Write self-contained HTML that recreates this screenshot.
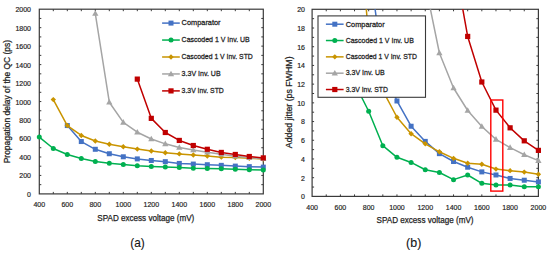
<!DOCTYPE html><html><head><meta charset="utf-8"><style>html,body{margin:0;padding:0;background:#fff;width:550px;height:254px;overflow:hidden}svg{display:block}</style></head><body><svg width="550" height="254" viewBox="0 0 550 254">
<style>text{font-family:"Liberation Sans", sans-serif;fill:#222} .t{font-size:7.8px;stroke:#222;stroke-width:0.18px} .lg{font-size:7.9px;stroke:#222;stroke-width:0.26px} .ti{font-size:8.8px;stroke:#222;stroke-width:0.25px} .yt{font-size:9.0px} .cap{font-size:13.3px;fill:#151515;stroke:#151515;stroke-width:0.12px}</style>
<rect width="550" height="254" fill="#fff"/>
<defs><clipPath id="ca"><rect x="0" y="9.2" width="550" height="250"/></clipPath><clipPath id="cb"><rect x="0" y="9.3" width="550" height="250"/></clipPath></defs>
<rect x="39.3" y="9.2" width="224.0" height="184.70000000000002" fill="none" stroke="#3a3a3a" stroke-width="1.2"/>
<line x1="53.30" y1="193.9" x2="53.30" y2="191.9" stroke="#3a3a3a" stroke-width="1"/>
<line x1="53.30" y1="9.2" x2="53.30" y2="11.2" stroke="#3a3a3a" stroke-width="1"/>
<line x1="67.30" y1="193.9" x2="67.30" y2="191.9" stroke="#3a3a3a" stroke-width="1"/>
<line x1="67.30" y1="9.2" x2="67.30" y2="11.2" stroke="#3a3a3a" stroke-width="1"/>
<line x1="81.30" y1="193.9" x2="81.30" y2="191.9" stroke="#3a3a3a" stroke-width="1"/>
<line x1="81.30" y1="9.2" x2="81.30" y2="11.2" stroke="#3a3a3a" stroke-width="1"/>
<line x1="95.30" y1="193.9" x2="95.30" y2="191.9" stroke="#3a3a3a" stroke-width="1"/>
<line x1="95.30" y1="9.2" x2="95.30" y2="11.2" stroke="#3a3a3a" stroke-width="1"/>
<line x1="109.30" y1="193.9" x2="109.30" y2="191.9" stroke="#3a3a3a" stroke-width="1"/>
<line x1="109.30" y1="9.2" x2="109.30" y2="11.2" stroke="#3a3a3a" stroke-width="1"/>
<line x1="123.30" y1="193.9" x2="123.30" y2="191.9" stroke="#3a3a3a" stroke-width="1"/>
<line x1="123.30" y1="9.2" x2="123.30" y2="11.2" stroke="#3a3a3a" stroke-width="1"/>
<line x1="137.30" y1="193.9" x2="137.30" y2="191.9" stroke="#3a3a3a" stroke-width="1"/>
<line x1="137.30" y1="9.2" x2="137.30" y2="11.2" stroke="#3a3a3a" stroke-width="1"/>
<line x1="151.30" y1="193.9" x2="151.30" y2="191.9" stroke="#3a3a3a" stroke-width="1"/>
<line x1="151.30" y1="9.2" x2="151.30" y2="11.2" stroke="#3a3a3a" stroke-width="1"/>
<line x1="165.30" y1="193.9" x2="165.30" y2="191.9" stroke="#3a3a3a" stroke-width="1"/>
<line x1="165.30" y1="9.2" x2="165.30" y2="11.2" stroke="#3a3a3a" stroke-width="1"/>
<line x1="179.30" y1="193.9" x2="179.30" y2="191.9" stroke="#3a3a3a" stroke-width="1"/>
<line x1="179.30" y1="9.2" x2="179.30" y2="11.2" stroke="#3a3a3a" stroke-width="1"/>
<line x1="193.30" y1="193.9" x2="193.30" y2="191.9" stroke="#3a3a3a" stroke-width="1"/>
<line x1="193.30" y1="9.2" x2="193.30" y2="11.2" stroke="#3a3a3a" stroke-width="1"/>
<line x1="207.30" y1="193.9" x2="207.30" y2="191.9" stroke="#3a3a3a" stroke-width="1"/>
<line x1="207.30" y1="9.2" x2="207.30" y2="11.2" stroke="#3a3a3a" stroke-width="1"/>
<line x1="221.30" y1="193.9" x2="221.30" y2="191.9" stroke="#3a3a3a" stroke-width="1"/>
<line x1="221.30" y1="9.2" x2="221.30" y2="11.2" stroke="#3a3a3a" stroke-width="1"/>
<line x1="235.30" y1="193.9" x2="235.30" y2="191.9" stroke="#3a3a3a" stroke-width="1"/>
<line x1="235.30" y1="9.2" x2="235.30" y2="11.2" stroke="#3a3a3a" stroke-width="1"/>
<line x1="249.30" y1="193.9" x2="249.30" y2="191.9" stroke="#3a3a3a" stroke-width="1"/>
<line x1="249.30" y1="9.2" x2="249.30" y2="11.2" stroke="#3a3a3a" stroke-width="1"/>
<line x1="39.3" y1="184.66" x2="41.3" y2="184.66" stroke="#3a3a3a" stroke-width="1"/>
<line x1="263.3" y1="184.66" x2="261.3" y2="184.66" stroke="#3a3a3a" stroke-width="1"/>
<line x1="39.3" y1="175.43" x2="41.3" y2="175.43" stroke="#3a3a3a" stroke-width="1"/>
<line x1="263.3" y1="175.43" x2="261.3" y2="175.43" stroke="#3a3a3a" stroke-width="1"/>
<line x1="39.3" y1="166.19" x2="41.3" y2="166.19" stroke="#3a3a3a" stroke-width="1"/>
<line x1="263.3" y1="166.19" x2="261.3" y2="166.19" stroke="#3a3a3a" stroke-width="1"/>
<line x1="39.3" y1="156.96" x2="41.3" y2="156.96" stroke="#3a3a3a" stroke-width="1"/>
<line x1="263.3" y1="156.96" x2="261.3" y2="156.96" stroke="#3a3a3a" stroke-width="1"/>
<line x1="39.3" y1="147.72" x2="41.3" y2="147.72" stroke="#3a3a3a" stroke-width="1"/>
<line x1="263.3" y1="147.72" x2="261.3" y2="147.72" stroke="#3a3a3a" stroke-width="1"/>
<line x1="39.3" y1="138.49" x2="41.3" y2="138.49" stroke="#3a3a3a" stroke-width="1"/>
<line x1="263.3" y1="138.49" x2="261.3" y2="138.49" stroke="#3a3a3a" stroke-width="1"/>
<line x1="39.3" y1="129.25" x2="41.3" y2="129.25" stroke="#3a3a3a" stroke-width="1"/>
<line x1="263.3" y1="129.25" x2="261.3" y2="129.25" stroke="#3a3a3a" stroke-width="1"/>
<line x1="39.3" y1="120.02" x2="41.3" y2="120.02" stroke="#3a3a3a" stroke-width="1"/>
<line x1="263.3" y1="120.02" x2="261.3" y2="120.02" stroke="#3a3a3a" stroke-width="1"/>
<line x1="39.3" y1="110.78" x2="41.3" y2="110.78" stroke="#3a3a3a" stroke-width="1"/>
<line x1="263.3" y1="110.78" x2="261.3" y2="110.78" stroke="#3a3a3a" stroke-width="1"/>
<line x1="39.3" y1="101.55" x2="41.3" y2="101.55" stroke="#3a3a3a" stroke-width="1"/>
<line x1="263.3" y1="101.55" x2="261.3" y2="101.55" stroke="#3a3a3a" stroke-width="1"/>
<line x1="39.3" y1="92.31" x2="41.3" y2="92.31" stroke="#3a3a3a" stroke-width="1"/>
<line x1="263.3" y1="92.31" x2="261.3" y2="92.31" stroke="#3a3a3a" stroke-width="1"/>
<line x1="39.3" y1="83.08" x2="41.3" y2="83.08" stroke="#3a3a3a" stroke-width="1"/>
<line x1="263.3" y1="83.08" x2="261.3" y2="83.08" stroke="#3a3a3a" stroke-width="1"/>
<line x1="39.3" y1="73.84" x2="41.3" y2="73.84" stroke="#3a3a3a" stroke-width="1"/>
<line x1="263.3" y1="73.84" x2="261.3" y2="73.84" stroke="#3a3a3a" stroke-width="1"/>
<line x1="39.3" y1="64.61" x2="41.3" y2="64.61" stroke="#3a3a3a" stroke-width="1"/>
<line x1="263.3" y1="64.61" x2="261.3" y2="64.61" stroke="#3a3a3a" stroke-width="1"/>
<line x1="39.3" y1="55.37" x2="41.3" y2="55.37" stroke="#3a3a3a" stroke-width="1"/>
<line x1="263.3" y1="55.37" x2="261.3" y2="55.37" stroke="#3a3a3a" stroke-width="1"/>
<line x1="39.3" y1="46.14" x2="41.3" y2="46.14" stroke="#3a3a3a" stroke-width="1"/>
<line x1="263.3" y1="46.14" x2="261.3" y2="46.14" stroke="#3a3a3a" stroke-width="1"/>
<line x1="39.3" y1="36.91" x2="41.3" y2="36.91" stroke="#3a3a3a" stroke-width="1"/>
<line x1="263.3" y1="36.91" x2="261.3" y2="36.91" stroke="#3a3a3a" stroke-width="1"/>
<line x1="39.3" y1="27.67" x2="41.3" y2="27.67" stroke="#3a3a3a" stroke-width="1"/>
<line x1="263.3" y1="27.67" x2="261.3" y2="27.67" stroke="#3a3a3a" stroke-width="1"/>
<line x1="39.3" y1="18.44" x2="41.3" y2="18.44" stroke="#3a3a3a" stroke-width="1"/>
<line x1="263.3" y1="18.44" x2="261.3" y2="18.44" stroke="#3a3a3a" stroke-width="1"/>
<text x="31.0" y="196.90" text-anchor="end" class="t" textLength="3.90" lengthAdjust="spacingAndGlyphs">0</text>
<text x="31.0" y="178.43" text-anchor="end" class="t" textLength="11.70" lengthAdjust="spacingAndGlyphs">200</text>
<text x="31.0" y="159.96" text-anchor="end" class="t" textLength="11.70" lengthAdjust="spacingAndGlyphs">400</text>
<text x="31.0" y="141.49" text-anchor="end" class="t" textLength="11.70" lengthAdjust="spacingAndGlyphs">600</text>
<text x="31.0" y="123.02" text-anchor="end" class="t" textLength="11.70" lengthAdjust="spacingAndGlyphs">800</text>
<text x="31.0" y="104.55" text-anchor="end" class="t" textLength="15.60" lengthAdjust="spacingAndGlyphs">1000</text>
<text x="31.0" y="86.08" text-anchor="end" class="t" textLength="15.60" lengthAdjust="spacingAndGlyphs">1200</text>
<text x="31.0" y="67.61" text-anchor="end" class="t" textLength="15.60" lengthAdjust="spacingAndGlyphs">1400</text>
<text x="31.0" y="49.14" text-anchor="end" class="t" textLength="15.60" lengthAdjust="spacingAndGlyphs">1600</text>
<text x="31.0" y="30.67" text-anchor="end" class="t" textLength="15.60" lengthAdjust="spacingAndGlyphs">1800</text>
<text x="31.0" y="12.20" text-anchor="end" class="t" textLength="15.60" lengthAdjust="spacingAndGlyphs">2000</text>
<text x="39.30" y="207.4" text-anchor="middle" class="t" textLength="11.70" lengthAdjust="spacingAndGlyphs">400</text>
<text x="67.30" y="207.4" text-anchor="middle" class="t" textLength="11.70" lengthAdjust="spacingAndGlyphs">600</text>
<text x="95.30" y="207.4" text-anchor="middle" class="t" textLength="11.70" lengthAdjust="spacingAndGlyphs">800</text>
<text x="123.30" y="207.4" text-anchor="middle" class="t" textLength="15.60" lengthAdjust="spacingAndGlyphs">1000</text>
<text x="151.30" y="207.4" text-anchor="middle" class="t" textLength="15.60" lengthAdjust="spacingAndGlyphs">1200</text>
<text x="179.30" y="207.4" text-anchor="middle" class="t" textLength="15.60" lengthAdjust="spacingAndGlyphs">1400</text>
<text x="207.30" y="207.4" text-anchor="middle" class="t" textLength="15.60" lengthAdjust="spacingAndGlyphs">1600</text>
<text x="235.30" y="207.4" text-anchor="middle" class="t" textLength="15.60" lengthAdjust="spacingAndGlyphs">1800</text>
<text x="263.30" y="207.4" text-anchor="middle" class="t" textLength="15.60" lengthAdjust="spacingAndGlyphs">2000</text>
<g clip-path="url(#ca)">
<polyline points="67.30,125.56 81.30,141.54 95.30,149.29 109.30,153.73 123.30,156.78 137.30,158.90 151.30,160.47 165.30,161.67 179.30,163.42 193.30,164.07 207.30,164.72 221.30,165.36 235.30,166.10 249.30,166.66 263.30,167.12" fill="none" stroke="#4472C4" stroke-width="1.5" stroke-linejoin="round"/>
<rect x="64.80" y="123.06" width="5.0" height="5.0" fill="#4472C4"/>
<rect x="78.80" y="139.04" width="5.0" height="5.0" fill="#4472C4"/>
<rect x="92.80" y="146.79" width="5.0" height="5.0" fill="#4472C4"/>
<rect x="106.80" y="151.23" width="5.0" height="5.0" fill="#4472C4"/>
<rect x="120.80" y="154.28" width="5.0" height="5.0" fill="#4472C4"/>
<rect x="134.80" y="156.40" width="5.0" height="5.0" fill="#4472C4"/>
<rect x="148.80" y="157.97" width="5.0" height="5.0" fill="#4472C4"/>
<rect x="162.80" y="159.17" width="5.0" height="5.0" fill="#4472C4"/>
<rect x="176.80" y="160.92" width="5.0" height="5.0" fill="#4472C4"/>
<rect x="190.80" y="161.57" width="5.0" height="5.0" fill="#4472C4"/>
<rect x="204.80" y="162.22" width="5.0" height="5.0" fill="#4472C4"/>
<rect x="218.80" y="162.86" width="5.0" height="5.0" fill="#4472C4"/>
<rect x="232.80" y="163.60" width="5.0" height="5.0" fill="#4472C4"/>
<rect x="246.80" y="164.16" width="5.0" height="5.0" fill="#4472C4"/>
<rect x="260.80" y="164.62" width="5.0" height="5.0" fill="#4472C4"/>
<polyline points="39.30,137.10 53.30,148.46 67.30,154.56 81.30,158.53 95.30,161.49 109.30,163.24 123.30,164.44 137.30,165.64 151.30,166.38 165.30,166.93 179.30,167.58 193.30,168.32 207.30,168.41 221.30,168.87 235.30,169.33 249.30,169.70 263.30,170.07" fill="none" stroke="#00B050" stroke-width="1.5" stroke-linejoin="round"/>
<circle cx="39.30" cy="137.10" r="2.5" fill="#00B050"/>
<circle cx="53.30" cy="148.46" r="2.5" fill="#00B050"/>
<circle cx="67.30" cy="154.56" r="2.5" fill="#00B050"/>
<circle cx="81.30" cy="158.53" r="2.5" fill="#00B050"/>
<circle cx="95.30" cy="161.49" r="2.5" fill="#00B050"/>
<circle cx="109.30" cy="163.24" r="2.5" fill="#00B050"/>
<circle cx="123.30" cy="164.44" r="2.5" fill="#00B050"/>
<circle cx="137.30" cy="165.64" r="2.5" fill="#00B050"/>
<circle cx="151.30" cy="166.38" r="2.5" fill="#00B050"/>
<circle cx="165.30" cy="166.93" r="2.5" fill="#00B050"/>
<circle cx="179.30" cy="167.58" r="2.5" fill="#00B050"/>
<circle cx="193.30" cy="168.32" r="2.5" fill="#00B050"/>
<circle cx="207.30" cy="168.41" r="2.5" fill="#00B050"/>
<circle cx="221.30" cy="168.87" r="2.5" fill="#00B050"/>
<circle cx="235.30" cy="169.33" r="2.5" fill="#00B050"/>
<circle cx="249.30" cy="169.70" r="2.5" fill="#00B050"/>
<circle cx="263.30" cy="170.07" r="2.5" fill="#00B050"/>
<polyline points="53.30,99.61 67.30,125.56 81.30,135.44 95.30,140.98 109.30,144.31 123.30,146.80 137.30,149.11 151.30,150.96 165.30,152.71 179.30,153.91 193.30,154.93 207.30,155.94 221.30,157.14 235.30,157.51 249.30,158.35 263.30,159.08" fill="none" stroke="#C99400" stroke-width="1.5" stroke-linejoin="round"/>
<polygon points="53.30,96.91 56.00,99.61 53.30,102.31 50.60,99.61" fill="#C99400"/>
<polygon points="67.30,122.86 70.00,125.56 67.30,128.26 64.60,125.56" fill="#C99400"/>
<polygon points="81.30,132.74 84.00,135.44 81.30,138.14 78.60,135.44" fill="#C99400"/>
<polygon points="95.30,138.28 98.00,140.98 95.30,143.68 92.60,140.98" fill="#C99400"/>
<polygon points="109.30,141.61 112.00,144.31 109.30,147.01 106.60,144.31" fill="#C99400"/>
<polygon points="123.30,144.10 126.00,146.80 123.30,149.50 120.60,146.80" fill="#C99400"/>
<polygon points="137.30,146.41 140.00,149.11 137.30,151.81 134.60,149.11" fill="#C99400"/>
<polygon points="151.30,148.26 154.00,150.96 151.30,153.66 148.60,150.96" fill="#C99400"/>
<polygon points="165.30,150.01 168.00,152.71 165.30,155.41 162.60,152.71" fill="#C99400"/>
<polygon points="179.30,151.21 182.00,153.91 179.30,156.61 176.60,153.91" fill="#C99400"/>
<polygon points="193.30,152.23 196.00,154.93 193.30,157.63 190.60,154.93" fill="#C99400"/>
<polygon points="207.30,153.24 210.00,155.94 207.30,158.64 204.60,155.94" fill="#C99400"/>
<polygon points="221.30,154.44 224.00,157.14 221.30,159.84 218.60,157.14" fill="#C99400"/>
<polygon points="235.30,154.81 238.00,157.51 235.30,160.21 232.60,157.51" fill="#C99400"/>
<polygon points="249.30,155.65 252.00,158.35 249.30,161.05 246.60,158.35" fill="#C99400"/>
<polygon points="263.30,156.38 266.00,159.08 263.30,161.78 260.60,159.08" fill="#C99400"/>
<polyline points="95.30,13.54 109.30,102.20 123.30,122.42 137.30,132.21 151.30,139.04 165.30,143.85 179.30,147.54 193.30,150.03 207.30,152.25 221.30,154.19 235.30,156.22 249.30,157.70 263.30,158.71" fill="none" stroke="#A5A5A5" stroke-width="1.5" stroke-linejoin="round"/>
<polygon points="95.30,10.24 98.44,15.85 92.16,15.85" fill="#A5A5A5"/>
<polygon points="109.30,98.90 112.44,104.51 106.16,104.51" fill="#A5A5A5"/>
<polygon points="123.30,119.12 126.44,124.73 120.16,124.73" fill="#A5A5A5"/>
<polygon points="137.30,128.91 140.44,134.52 134.17,134.52" fill="#A5A5A5"/>
<polygon points="151.30,135.74 154.44,141.35 148.17,141.35" fill="#A5A5A5"/>
<polygon points="165.30,140.55 168.44,146.16 162.17,146.16" fill="#A5A5A5"/>
<polygon points="179.30,144.24 182.44,149.85 176.17,149.85" fill="#A5A5A5"/>
<polygon points="193.30,146.73 196.44,152.34 190.17,152.34" fill="#A5A5A5"/>
<polygon points="207.30,148.95 210.44,154.56 204.17,154.56" fill="#A5A5A5"/>
<polygon points="221.30,150.89 224.44,156.50 218.17,156.50" fill="#A5A5A5"/>
<polygon points="235.30,152.92 238.44,158.53 232.17,158.53" fill="#A5A5A5"/>
<polygon points="249.30,154.40 252.44,160.01 246.17,160.01" fill="#A5A5A5"/>
<polygon points="263.30,155.41 266.44,161.02 260.17,161.02" fill="#A5A5A5"/>
<polyline points="137.30,79.11 151.30,118.36 165.30,132.49 179.30,140.43 193.30,145.51 207.30,149.29 221.30,152.43 235.30,154.47 249.30,156.50 263.30,157.88" fill="none" stroke="#C00000" stroke-width="1.5" stroke-linejoin="round"/>
<rect x="134.70" y="76.51" width="5.2" height="5.2" fill="#C00000"/>
<rect x="148.70" y="115.76" width="5.2" height="5.2" fill="#C00000"/>
<rect x="162.70" y="129.89" width="5.2" height="5.2" fill="#C00000"/>
<rect x="176.70" y="137.83" width="5.2" height="5.2" fill="#C00000"/>
<rect x="190.70" y="142.91" width="5.2" height="5.2" fill="#C00000"/>
<rect x="204.70" y="146.69" width="5.2" height="5.2" fill="#C00000"/>
<rect x="218.70" y="149.83" width="5.2" height="5.2" fill="#C00000"/>
<rect x="232.70" y="151.87" width="5.2" height="5.2" fill="#C00000"/>
<rect x="246.70" y="153.90" width="5.2" height="5.2" fill="#C00000"/>
<rect x="260.70" y="155.28" width="5.2" height="5.2" fill="#C00000"/>
</g>
<line x1="162.1" y1="23.10" x2="179.79999999999998" y2="23.10" stroke="#4472C4" stroke-width="1.5"/>
<rect x="168.50" y="20.60" width="5.0" height="5.0" fill="#4472C4"/>
<text x="181.6" y="25.40" class="lg" textLength="39.0" lengthAdjust="spacingAndGlyphs">Comparator</text>
<line x1="162.1" y1="40.05" x2="179.79999999999998" y2="40.05" stroke="#00B050" stroke-width="1.5"/>
<circle cx="171.00" cy="40.05" r="2.5" fill="#00B050"/>
<text x="181.6" y="42.35" class="lg" textLength="68.1" lengthAdjust="spacingAndGlyphs">Cascoded 1 V Inv. UB</text>
<line x1="162.1" y1="57.00" x2="179.79999999999998" y2="57.00" stroke="#C99400" stroke-width="1.5"/>
<polygon points="171.00,54.30 173.70,57.00 171.00,59.70 168.30,57.00" fill="#C99400"/>
<text x="181.6" y="59.30" class="lg" textLength="71.2" lengthAdjust="spacingAndGlyphs">Cascoded 1 V Inv. STD</text>
<line x1="162.1" y1="73.95" x2="179.79999999999998" y2="73.95" stroke="#A5A5A5" stroke-width="1.5"/>
<polygon points="171.00,70.65 174.13,76.26 167.87,76.26" fill="#A5A5A5"/>
<text x="181.6" y="76.25" class="lg" textLength="39.0" lengthAdjust="spacingAndGlyphs">3.3V Inv. UB</text>
<line x1="162.1" y1="90.90" x2="179.79999999999998" y2="90.90" stroke="#C00000" stroke-width="1.5"/>
<rect x="168.40" y="88.30" width="5.2" height="5.2" fill="#C00000"/>
<text x="181.6" y="93.20" class="lg" textLength="42.2" lengthAdjust="spacingAndGlyphs">3.3V Inv. STD</text>
<text x="97.3" y="220.8" class="ti" textLength="97" lengthAdjust="spacingAndGlyphs">SPAD excess voltage (mV)</text>
<text transform="translate(10.0,163.3) rotate(-90)" x="0" y="0" class="ti yt" textLength="123.3" lengthAdjust="spacingAndGlyphs">Propagation delay of the QC (ps)</text>
<text x="130.3" y="246.6" class="cap" textLength="14.5" lengthAdjust="spacingAndGlyphs">(a)</text>
<rect x="312.1" y="9.3" width="226.29999999999995" height="187.1" fill="none" stroke="#3a3a3a" stroke-width="1.2"/>
<line x1="326.24" y1="196.4" x2="326.24" y2="194.4" stroke="#3a3a3a" stroke-width="1"/>
<line x1="326.24" y1="9.3" x2="326.24" y2="11.3" stroke="#3a3a3a" stroke-width="1"/>
<line x1="340.39" y1="196.4" x2="340.39" y2="194.4" stroke="#3a3a3a" stroke-width="1"/>
<line x1="340.39" y1="9.3" x2="340.39" y2="11.3" stroke="#3a3a3a" stroke-width="1"/>
<line x1="354.53" y1="196.4" x2="354.53" y2="194.4" stroke="#3a3a3a" stroke-width="1"/>
<line x1="354.53" y1="9.3" x2="354.53" y2="11.3" stroke="#3a3a3a" stroke-width="1"/>
<line x1="368.68" y1="196.4" x2="368.68" y2="194.4" stroke="#3a3a3a" stroke-width="1"/>
<line x1="368.68" y1="9.3" x2="368.68" y2="11.3" stroke="#3a3a3a" stroke-width="1"/>
<line x1="382.82" y1="196.4" x2="382.82" y2="194.4" stroke="#3a3a3a" stroke-width="1"/>
<line x1="382.82" y1="9.3" x2="382.82" y2="11.3" stroke="#3a3a3a" stroke-width="1"/>
<line x1="396.96" y1="196.4" x2="396.96" y2="194.4" stroke="#3a3a3a" stroke-width="1"/>
<line x1="396.96" y1="9.3" x2="396.96" y2="11.3" stroke="#3a3a3a" stroke-width="1"/>
<line x1="411.11" y1="196.4" x2="411.11" y2="194.4" stroke="#3a3a3a" stroke-width="1"/>
<line x1="411.11" y1="9.3" x2="411.11" y2="11.3" stroke="#3a3a3a" stroke-width="1"/>
<line x1="425.25" y1="196.4" x2="425.25" y2="194.4" stroke="#3a3a3a" stroke-width="1"/>
<line x1="425.25" y1="9.3" x2="425.25" y2="11.3" stroke="#3a3a3a" stroke-width="1"/>
<line x1="439.39" y1="196.4" x2="439.39" y2="194.4" stroke="#3a3a3a" stroke-width="1"/>
<line x1="439.39" y1="9.3" x2="439.39" y2="11.3" stroke="#3a3a3a" stroke-width="1"/>
<line x1="453.54" y1="196.4" x2="453.54" y2="194.4" stroke="#3a3a3a" stroke-width="1"/>
<line x1="453.54" y1="9.3" x2="453.54" y2="11.3" stroke="#3a3a3a" stroke-width="1"/>
<line x1="467.68" y1="196.4" x2="467.68" y2="194.4" stroke="#3a3a3a" stroke-width="1"/>
<line x1="467.68" y1="9.3" x2="467.68" y2="11.3" stroke="#3a3a3a" stroke-width="1"/>
<line x1="481.82" y1="196.4" x2="481.82" y2="194.4" stroke="#3a3a3a" stroke-width="1"/>
<line x1="481.82" y1="9.3" x2="481.82" y2="11.3" stroke="#3a3a3a" stroke-width="1"/>
<line x1="495.97" y1="196.4" x2="495.97" y2="194.4" stroke="#3a3a3a" stroke-width="1"/>
<line x1="495.97" y1="9.3" x2="495.97" y2="11.3" stroke="#3a3a3a" stroke-width="1"/>
<line x1="510.11" y1="196.4" x2="510.11" y2="194.4" stroke="#3a3a3a" stroke-width="1"/>
<line x1="510.11" y1="9.3" x2="510.11" y2="11.3" stroke="#3a3a3a" stroke-width="1"/>
<line x1="524.26" y1="196.4" x2="524.26" y2="194.4" stroke="#3a3a3a" stroke-width="1"/>
<line x1="524.26" y1="9.3" x2="524.26" y2="11.3" stroke="#3a3a3a" stroke-width="1"/>
<line x1="312.1" y1="187.05" x2="314.1" y2="187.05" stroke="#3a3a3a" stroke-width="1"/>
<line x1="538.4" y1="187.05" x2="536.4" y2="187.05" stroke="#3a3a3a" stroke-width="1"/>
<line x1="312.1" y1="177.69" x2="314.1" y2="177.69" stroke="#3a3a3a" stroke-width="1"/>
<line x1="538.4" y1="177.69" x2="536.4" y2="177.69" stroke="#3a3a3a" stroke-width="1"/>
<line x1="312.1" y1="168.34" x2="314.1" y2="168.34" stroke="#3a3a3a" stroke-width="1"/>
<line x1="538.4" y1="168.34" x2="536.4" y2="168.34" stroke="#3a3a3a" stroke-width="1"/>
<line x1="312.1" y1="158.98" x2="314.1" y2="158.98" stroke="#3a3a3a" stroke-width="1"/>
<line x1="538.4" y1="158.98" x2="536.4" y2="158.98" stroke="#3a3a3a" stroke-width="1"/>
<line x1="312.1" y1="149.62" x2="314.1" y2="149.62" stroke="#3a3a3a" stroke-width="1"/>
<line x1="538.4" y1="149.62" x2="536.4" y2="149.62" stroke="#3a3a3a" stroke-width="1"/>
<line x1="312.1" y1="140.27" x2="314.1" y2="140.27" stroke="#3a3a3a" stroke-width="1"/>
<line x1="538.4" y1="140.27" x2="536.4" y2="140.27" stroke="#3a3a3a" stroke-width="1"/>
<line x1="312.1" y1="130.92" x2="314.1" y2="130.92" stroke="#3a3a3a" stroke-width="1"/>
<line x1="538.4" y1="130.92" x2="536.4" y2="130.92" stroke="#3a3a3a" stroke-width="1"/>
<line x1="312.1" y1="121.56" x2="314.1" y2="121.56" stroke="#3a3a3a" stroke-width="1"/>
<line x1="538.4" y1="121.56" x2="536.4" y2="121.56" stroke="#3a3a3a" stroke-width="1"/>
<line x1="312.1" y1="112.21" x2="314.1" y2="112.21" stroke="#3a3a3a" stroke-width="1"/>
<line x1="538.4" y1="112.21" x2="536.4" y2="112.21" stroke="#3a3a3a" stroke-width="1"/>
<line x1="312.1" y1="102.85" x2="314.1" y2="102.85" stroke="#3a3a3a" stroke-width="1"/>
<line x1="538.4" y1="102.85" x2="536.4" y2="102.85" stroke="#3a3a3a" stroke-width="1"/>
<line x1="312.1" y1="93.50" x2="314.1" y2="93.50" stroke="#3a3a3a" stroke-width="1"/>
<line x1="538.4" y1="93.50" x2="536.4" y2="93.50" stroke="#3a3a3a" stroke-width="1"/>
<line x1="312.1" y1="84.14" x2="314.1" y2="84.14" stroke="#3a3a3a" stroke-width="1"/>
<line x1="538.4" y1="84.14" x2="536.4" y2="84.14" stroke="#3a3a3a" stroke-width="1"/>
<line x1="312.1" y1="74.79" x2="314.1" y2="74.79" stroke="#3a3a3a" stroke-width="1"/>
<line x1="538.4" y1="74.79" x2="536.4" y2="74.79" stroke="#3a3a3a" stroke-width="1"/>
<line x1="312.1" y1="65.43" x2="314.1" y2="65.43" stroke="#3a3a3a" stroke-width="1"/>
<line x1="538.4" y1="65.43" x2="536.4" y2="65.43" stroke="#3a3a3a" stroke-width="1"/>
<line x1="312.1" y1="56.08" x2="314.1" y2="56.08" stroke="#3a3a3a" stroke-width="1"/>
<line x1="538.4" y1="56.08" x2="536.4" y2="56.08" stroke="#3a3a3a" stroke-width="1"/>
<line x1="312.1" y1="46.72" x2="314.1" y2="46.72" stroke="#3a3a3a" stroke-width="1"/>
<line x1="538.4" y1="46.72" x2="536.4" y2="46.72" stroke="#3a3a3a" stroke-width="1"/>
<line x1="312.1" y1="37.37" x2="314.1" y2="37.37" stroke="#3a3a3a" stroke-width="1"/>
<line x1="538.4" y1="37.37" x2="536.4" y2="37.37" stroke="#3a3a3a" stroke-width="1"/>
<line x1="312.1" y1="28.01" x2="314.1" y2="28.01" stroke="#3a3a3a" stroke-width="1"/>
<line x1="538.4" y1="28.01" x2="536.4" y2="28.01" stroke="#3a3a3a" stroke-width="1"/>
<line x1="312.1" y1="18.66" x2="314.1" y2="18.66" stroke="#3a3a3a" stroke-width="1"/>
<line x1="538.4" y1="18.66" x2="536.4" y2="18.66" stroke="#3a3a3a" stroke-width="1"/>
<text x="305.0" y="199.30" text-anchor="end" class="t" textLength="3.90" lengthAdjust="spacingAndGlyphs">0</text>
<text x="305.0" y="180.59" text-anchor="end" class="t" textLength="3.90" lengthAdjust="spacingAndGlyphs">2</text>
<text x="305.0" y="161.88" text-anchor="end" class="t" textLength="3.90" lengthAdjust="spacingAndGlyphs">4</text>
<text x="305.0" y="143.17" text-anchor="end" class="t" textLength="3.90" lengthAdjust="spacingAndGlyphs">6</text>
<text x="305.0" y="124.46" text-anchor="end" class="t" textLength="3.90" lengthAdjust="spacingAndGlyphs">8</text>
<text x="305.0" y="105.75" text-anchor="end" class="t" textLength="7.80" lengthAdjust="spacingAndGlyphs">10</text>
<text x="305.0" y="87.04" text-anchor="end" class="t" textLength="7.80" lengthAdjust="spacingAndGlyphs">12</text>
<text x="305.0" y="68.33" text-anchor="end" class="t" textLength="7.80" lengthAdjust="spacingAndGlyphs">14</text>
<text x="305.0" y="49.62" text-anchor="end" class="t" textLength="7.80" lengthAdjust="spacingAndGlyphs">16</text>
<text x="305.0" y="30.91" text-anchor="end" class="t" textLength="7.80" lengthAdjust="spacingAndGlyphs">18</text>
<text x="305.0" y="12.20" text-anchor="end" class="t" textLength="7.80" lengthAdjust="spacingAndGlyphs">20</text>
<text x="312.10" y="209.8" text-anchor="middle" class="t" textLength="11.70" lengthAdjust="spacingAndGlyphs">400</text>
<text x="340.39" y="209.8" text-anchor="middle" class="t" textLength="11.70" lengthAdjust="spacingAndGlyphs">600</text>
<text x="368.68" y="209.8" text-anchor="middle" class="t" textLength="11.70" lengthAdjust="spacingAndGlyphs">800</text>
<text x="396.96" y="209.8" text-anchor="middle" class="t" textLength="15.60" lengthAdjust="spacingAndGlyphs">1000</text>
<text x="425.25" y="209.8" text-anchor="middle" class="t" textLength="15.60" lengthAdjust="spacingAndGlyphs">1200</text>
<text x="453.54" y="209.8" text-anchor="middle" class="t" textLength="15.60" lengthAdjust="spacingAndGlyphs">1400</text>
<text x="481.82" y="209.8" text-anchor="middle" class="t" textLength="15.60" lengthAdjust="spacingAndGlyphs">1600</text>
<text x="510.11" y="209.8" text-anchor="middle" class="t" textLength="15.60" lengthAdjust="spacingAndGlyphs">1800</text>
<text x="538.40" y="209.8" text-anchor="middle" class="t" textLength="15.60" lengthAdjust="spacingAndGlyphs">2000</text>
<g clip-path="url(#cb)">
<polyline points="368.68,-37.47 382.82,65.43 396.96,100.98 411.11,126.24 425.25,141.39 439.39,153.65 453.54,161.51 467.68,167.21 481.82,171.89 495.97,174.98 510.11,178.44 524.26,180.22 538.40,181.90" fill="none" stroke="#4472C4" stroke-width="1.5" stroke-linejoin="round"/>
<rect x="366.18" y="-39.97" width="5.0" height="5.0" fill="#4472C4"/>
<rect x="380.32" y="62.93" width="5.0" height="5.0" fill="#4472C4"/>
<rect x="394.46" y="98.48" width="5.0" height="5.0" fill="#4472C4"/>
<rect x="408.61" y="123.74" width="5.0" height="5.0" fill="#4472C4"/>
<rect x="422.75" y="138.89" width="5.0" height="5.0" fill="#4472C4"/>
<rect x="436.89" y="151.15" width="5.0" height="5.0" fill="#4472C4"/>
<rect x="451.04" y="159.01" width="5.0" height="5.0" fill="#4472C4"/>
<rect x="465.18" y="164.71" width="5.0" height="5.0" fill="#4472C4"/>
<rect x="479.32" y="169.39" width="5.0" height="5.0" fill="#4472C4"/>
<rect x="493.47" y="172.48" width="5.0" height="5.0" fill="#4472C4"/>
<rect x="507.61" y="175.94" width="5.0" height="5.0" fill="#4472C4"/>
<rect x="521.76" y="177.72" width="5.0" height="5.0" fill="#4472C4"/>
<rect x="535.90" y="179.40" width="5.0" height="5.0" fill="#4472C4"/>
<polyline points="354.53,83.20 368.68,111.27 382.82,145.70 396.96,157.30 411.11,162.44 425.25,169.74 439.39,172.54 453.54,179.65 467.68,174.98 481.82,183.30 495.97,185.08 510.11,184.89 524.26,186.67 538.40,186.67" fill="none" stroke="#00B050" stroke-width="1.5" stroke-linejoin="round"/>
<circle cx="354.53" cy="83.20" r="2.5" fill="#00B050"/>
<circle cx="368.68" cy="111.27" r="2.5" fill="#00B050"/>
<circle cx="382.82" cy="145.70" r="2.5" fill="#00B050"/>
<circle cx="396.96" cy="157.30" r="2.5" fill="#00B050"/>
<circle cx="411.11" cy="162.44" r="2.5" fill="#00B050"/>
<circle cx="425.25" cy="169.74" r="2.5" fill="#00B050"/>
<circle cx="439.39" cy="172.54" r="2.5" fill="#00B050"/>
<circle cx="453.54" cy="179.65" r="2.5" fill="#00B050"/>
<circle cx="467.68" cy="174.98" r="2.5" fill="#00B050"/>
<circle cx="481.82" cy="183.30" r="2.5" fill="#00B050"/>
<circle cx="495.97" cy="185.08" r="2.5" fill="#00B050"/>
<circle cx="510.11" cy="184.89" r="2.5" fill="#00B050"/>
<circle cx="524.26" cy="186.67" r="2.5" fill="#00B050"/>
<circle cx="538.40" cy="186.67" r="2.5" fill="#00B050"/>
<polyline points="354.53,-131.03 368.68,37.37 382.82,90.69 396.96,117.26 411.11,133.72 425.25,143.82 439.39,151.78 453.54,158.33 467.68,163.19 481.82,164.31 495.97,169.08 510.11,170.67 524.26,172.08 538.40,174.32" fill="none" stroke="#C99400" stroke-width="1.5" stroke-linejoin="round"/>
<polygon points="354.53,-133.72 357.23,-131.03 354.53,-128.33 351.83,-131.03" fill="#C99400"/>
<polygon points="368.68,34.67 371.38,37.37 368.68,40.07 365.98,37.37" fill="#C99400"/>
<polygon points="382.82,87.99 385.52,90.69 382.82,93.39 380.12,90.69" fill="#C99400"/>
<polygon points="396.96,114.56 399.66,117.26 396.96,119.96 394.26,117.26" fill="#C99400"/>
<polygon points="411.11,131.02 413.81,133.72 411.11,136.42 408.41,133.72" fill="#C99400"/>
<polygon points="425.25,141.12 427.95,143.82 425.25,146.52 422.55,143.82" fill="#C99400"/>
<polygon points="439.39,149.08 442.09,151.78 439.39,154.48 436.69,151.78" fill="#C99400"/>
<polygon points="453.54,155.63 456.24,158.33 453.54,161.03 450.84,158.33" fill="#C99400"/>
<polygon points="467.68,160.49 470.38,163.19 467.68,165.89 464.98,163.19" fill="#C99400"/>
<polygon points="481.82,161.61 484.52,164.31 481.82,167.01 479.12,164.31" fill="#C99400"/>
<polygon points="495.97,166.38 498.67,169.08 495.97,171.78 493.27,169.08" fill="#C99400"/>
<polygon points="510.11,167.97 512.81,170.67 510.11,173.37 507.41,170.67" fill="#C99400"/>
<polygon points="524.26,169.38 526.96,172.08 524.26,174.78 521.56,172.08" fill="#C99400"/>
<polygon points="538.40,171.62 541.10,174.32 538.40,177.02 535.70,174.32" fill="#C99400"/>
<polyline points="425.25,-15.96 439.39,52.99 453.54,87.98 467.68,110.52 481.82,126.52 495.97,139.33 510.11,147.57 524.26,154.77 538.40,160.66" fill="none" stroke="#A5A5A5" stroke-width="1.5" stroke-linejoin="round"/>
<polygon points="425.25,-19.26 428.38,-13.65 422.12,-13.65" fill="#A5A5A5"/>
<polygon points="439.39,49.69 442.53,55.30 436.26,55.30" fill="#A5A5A5"/>
<polygon points="453.54,84.68 456.67,90.29 450.40,90.29" fill="#A5A5A5"/>
<polygon points="467.68,107.22 470.82,112.83 464.55,112.83" fill="#A5A5A5"/>
<polygon points="481.82,123.22 484.96,128.83 478.69,128.83" fill="#A5A5A5"/>
<polygon points="495.97,136.03 499.10,141.64 492.83,141.64" fill="#A5A5A5"/>
<polygon points="510.11,144.27 513.25,149.88 506.98,149.88" fill="#A5A5A5"/>
<polygon points="524.26,151.47 527.39,157.08 521.12,157.08" fill="#A5A5A5"/>
<polygon points="538.40,157.36 541.53,162.97 535.26,162.97" fill="#A5A5A5"/>
<polyline points="453.54,-42.15 467.68,36.43 481.82,81.99 495.97,110.15 510.11,127.83 524.26,140.83 538.40,150.37" fill="none" stroke="#C00000" stroke-width="1.5" stroke-linejoin="round"/>
<rect x="450.94" y="-44.75" width="5.2" height="5.2" fill="#C00000"/>
<rect x="465.08" y="33.83" width="5.2" height="5.2" fill="#C00000"/>
<rect x="479.22" y="79.39" width="5.2" height="5.2" fill="#C00000"/>
<rect x="493.37" y="107.55" width="5.2" height="5.2" fill="#C00000"/>
<rect x="507.51" y="125.23" width="5.2" height="5.2" fill="#C00000"/>
<rect x="521.66" y="138.23" width="5.2" height="5.2" fill="#C00000"/>
<rect x="535.80" y="147.77" width="5.2" height="5.2" fill="#C00000"/>
</g>
<rect x="318" y="15.9" width="107.5" height="81.4" fill="#fff" stroke="#3a3a3a" stroke-width="1.1"/>
<line x1="325.9" y1="24.20" x2="343.59999999999997" y2="24.20" stroke="#4472C4" stroke-width="1.5"/>
<rect x="332.30" y="21.70" width="5.0" height="5.0" fill="#4472C4"/>
<text x="345.7" y="26.50" class="lg" textLength="39.0" lengthAdjust="spacingAndGlyphs">Comparator</text>
<line x1="325.9" y1="40.53" x2="343.59999999999997" y2="40.53" stroke="#00B050" stroke-width="1.5"/>
<circle cx="334.80" cy="40.53" r="2.5" fill="#00B050"/>
<text x="345.7" y="42.83" class="lg" textLength="68.1" lengthAdjust="spacingAndGlyphs">Cascoded 1 V Inv. UB</text>
<line x1="325.9" y1="56.86" x2="343.59999999999997" y2="56.86" stroke="#C99400" stroke-width="1.5"/>
<polygon points="334.80,54.16 337.50,56.86 334.80,59.56 332.10,56.86" fill="#C99400"/>
<text x="345.7" y="59.16" class="lg" textLength="71.2" lengthAdjust="spacingAndGlyphs">Cascoded 1 V Inv. STD</text>
<line x1="325.9" y1="73.19" x2="343.59999999999997" y2="73.19" stroke="#A5A5A5" stroke-width="1.5"/>
<polygon points="334.80,69.89 337.93,75.50 331.66,75.50" fill="#A5A5A5"/>
<text x="345.7" y="75.49" class="lg" textLength="39.0" lengthAdjust="spacingAndGlyphs">3.3V Inv. UB</text>
<line x1="325.9" y1="89.52" x2="343.59999999999997" y2="89.52" stroke="#C00000" stroke-width="1.5"/>
<rect x="332.20" y="86.92" width="5.2" height="5.2" fill="#C00000"/>
<text x="345.7" y="91.82" class="lg" textLength="42.2" lengthAdjust="spacingAndGlyphs">3.3V Inv. STD</text>
<rect x="490.8" y="100.0" width="12.0" height="91.1" fill="none" stroke="#FF0000" stroke-width="1.4"/>
<text x="376.6" y="222.8" class="ti" textLength="96.9" lengthAdjust="spacingAndGlyphs">SPAD excess voltage (mV)</text>
<text transform="translate(291.6,148.2) rotate(-90)" x="0" y="0" class="ti yt" textLength="91.8" lengthAdjust="spacingAndGlyphs">Added jitter (ps FWHM)</text>
<text x="406.1" y="246.6" class="cap" textLength="15.2" lengthAdjust="spacingAndGlyphs">(b)</text>
</svg></body></html>
